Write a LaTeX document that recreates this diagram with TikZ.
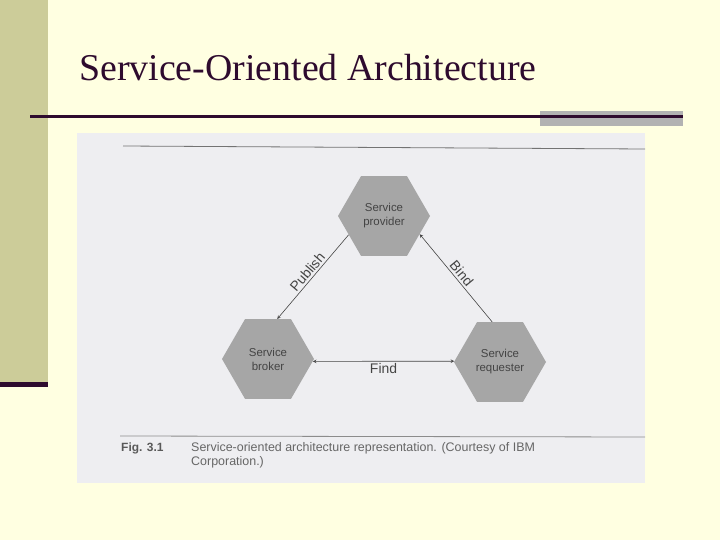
\documentclass[tikz,border=0pt]{standalone}
\usepackage{fontspec}
\setmainfont{Liberation Serif}
\setsansfont{Liberation Sans}
\usepackage{tikz}
\usetikzlibrary{shapes.geometric, arrows}
\definecolor{slidebg}{HTML}{FFFFE1}
\definecolor{slidebar}{HTML}{CCCC99}
\definecolor{slideink}{HTML}{2E0B2E}
\definecolor{scanbg}{HTML}{EEEEF1}
\definecolor{hexfill}{HTML}{A6A6A6}
\definecolor{scanink}{HTML}{444444}
\tikzstyle{hexa} = [regular polygon, regular polygon sides=6, minimum size=92bp, inner sep=0pt, fill=hexfill, text=scanink, align=center, font=\sffamily\fontsize{11.5}{14}\selectfont]
\tikzstyle{arrow} = [draw=scanink, line width=0.6bp, ->, >=stealth]
\tikzstyle{lbl} = [text=scanink, font=\sffamily\fontsize{14}{14}\selectfont, inner sep=2bp]

\begin{document}
\begin{tikzpicture}[x=1bp, y=-1bp]
            \fill [slidebg] (0,0) rectangle (720,540);
            \fill [slidebar] (0,0) rectangle (48,383);
            \fill [slideink] (0,382) rectangle (48,387);
            \node (title) [anchor=base west, inner sep=0pt, text=slideink, font=\fontsize{38}{40}\selectfont] at (79,81) {Service-Oriented Architecture};
            \fill [black!30] (540,111) rectangle (683,126);
            \draw [slideink, line width=3bp] (30,117) -- (683,117);

            \fill [scanbg] (77,133) rectangle (645,483);
            \draw [black!55, line width=0.8bp] (123,146) -- (645,149);
            \draw [black!45, line width=0.8bp] (120,436) -- (645,437);

            \node (prov)   [hexa] at (384,216) {Service\\provider};
            \node (broker) [hexa] at (268,359) {Service\\broker};
            \node (req)    [hexa] at (500,362) {Service\\requester};

            \draw [arrow] (prov.208) -- node [lbl, sloped, above] {Publish} (broker.77);
            \draw [arrow] (req.101)  -- node [lbl, sloped, above] {Bind} (prov.333);
            \draw [arrow, <->] (broker.357) -- node [lbl, below] {Find} (req.179);

            \node (fig) [anchor=base west, inner sep=0pt, text=black!65, font=\sffamily\bfseries\fontsize{12}{14}\selectfont] at (121,451) {Fig. 3.1};
            \node (cap) [anchor=base west, inner sep=0pt, text=black!60, font=\sffamily\fontsize{12.5}{14}\selectfont] at (191,451) {Service-oriented architecture representation. (Courtesy of IBM};
            \node (cap2) [anchor=base west, inner sep=0pt, text=black!60, font=\sffamily\fontsize{12.5}{14}\selectfont] at (191,465) {Corporation.)};
        \end{tikzpicture}
\end{document}
